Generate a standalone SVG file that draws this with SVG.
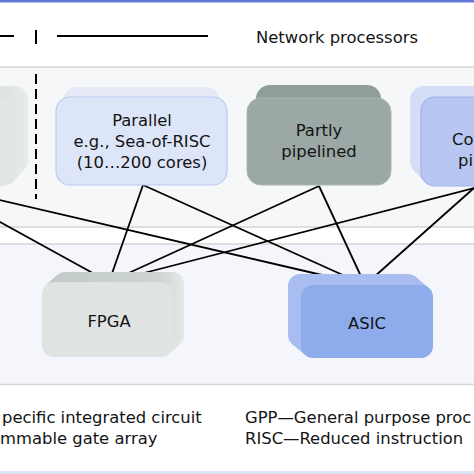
<svg xmlns="http://www.w3.org/2000/svg" width="474" height="474" viewBox="0 0 474 474">
<defs>
<style>
text{font-family:"DejaVu Sans","Open Sans",sans-serif;fill:#141414;font-size:16.4px}
.lbl{text-anchor:middle}
.rule{stroke:#d2d5d7;stroke-width:1.5}
.conn line{stroke:#000;stroke-width:1.8;fill:none}
.blk{stroke:#000;stroke-width:2}
</style>
<linearGradient id="gppSide" x1="0" y1="0" x2="1" y2="0">
<stop offset="0" stop-color="#b7c3c0"/>
<stop offset="1" stop-color="#e6eae9"/>
</linearGradient>
<linearGradient id="fpgaSide" x1="0" y1="0" x2="1" y2="0">
<stop offset="0" stop-color="#c3cbc9"/>
<stop offset="0.8" stop-color="#cdd4d2"/>
<stop offset="1" stop-color="#e4e8e7"/>
</linearGradient>
</defs>

<rect x="0" y="0" width="474" height="474" fill="#ffffff"/>
<rect x="0" y="0" width="474" height="2.5" fill="#6479d6"/>
<rect x="0" y="67" width="474" height="160" fill="#f6f7f8"/>
<rect x="0" y="244" width="474" height="140" fill="#f4f6fb"/>
<line class="rule" x1="0" y1="67" x2="474" y2="67"/>
<line class="rule" x1="0" y1="227" x2="474" y2="227"/>
<line class="rule" x1="0" y1="244" x2="474" y2="244"/>
<line class="rule" x1="0" y1="384.5" x2="474" y2="384.5"/>
<rect x="0" y="471" width="474" height="3" fill="#dce5f6"/>

<g id="header">
<line class="blk" x1="0" y1="36" x2="14" y2="36"/>
<line class="blk" x1="36" y1="30" x2="36" y2="44"/>
<line class="blk" x1="57" y1="36" x2="208" y2="36"/>
<text x="256" y="43">Network processors</text>
</g>

<line x1="36" y1="74" x2="36" y2="199" stroke="#000" stroke-width="2" stroke-dasharray="10 5"/>

<g id="connectors" class="conn">
<line x1="-69" y1="184" x2="109" y2="282"/>
<line x1="-69" y1="184" x2="365" y2="285"/>
<line x1="143" y1="185" x2="109" y2="282"/>
<line x1="143" y1="185" x2="365" y2="285"/>
<line x1="319" y1="186" x2="109" y2="282"/>
<line x1="319" y1="186" x2="365" y2="285"/>
<line x1="474" y1="188" x2="109" y2="282"/>
<line x1="474" y1="188" x2="365" y2="285"/>
</g>

<g id="gpp">
<rect x="-130" y="86" width="158" height="88" rx="14" fill="url(#gppSide)"/>
<polygon points="-139,104 -126,90 24,170 11,184" fill="url(#gppSide)"/>
<rect x="-143" y="100" width="158" height="86" rx="14" fill="#e1e6e5"/>
</g>

<g id="parallel">
<rect x="63" y="87" width="157" height="88" rx="14" fill="#e6eaf7"/>
<polygon points="63,101 56,111 227,111 220,101" fill="#e6eaf7"/>
<rect x="56" y="97" width="171" height="88" rx="14" fill="#dde5f8" stroke="#bccaee" stroke-width="1.2"/>
<text class="lbl" x="142" y="126">Parallel</text>
<text class="lbl" x="142" y="147">e.g., Sea-of-RISC</text>
<text class="lbl" x="142" y="168">(10…200 cores)</text>
</g>

<g id="partly">
<rect x="256" y="85" width="125" height="88" rx="14" fill="#909e9a"/>
<polygon points="256,99 247,112 391,112 381,99" fill="#909e9a"/>
<rect x="247" y="98" width="144" height="87" rx="14" fill="#9ba8a5" stroke="#abb6b3" stroke-width="1"/>
<text class="lbl" x="319" y="136">Partly</text>
<text class="lbl" x="319" y="157">pipelined</text>
</g>

<g id="complete">
<rect x="410" y="86" width="144" height="89" rx="14" fill="#d5ddf6"/>
<polygon points="537,90 548,101 425,182 414,171" fill="#d5ddf6"/>
<rect x="421" y="97" width="144" height="89" rx="14" fill="#b8c7f1" stroke="#9fb3e9" stroke-width="1.2"/>
<text x="452" y="145">Co</text>
<text x="458" y="166">pi</text>
</g>

<g id="fpga">
<rect x="53" y="272" width="131" height="75" rx="12" fill="url(#fpgaSide)"/>
<polygon points="45.5,285.5 56.5,275.5 180.5,343.5 169.5,353.5" fill="url(#fpgaSide)"/>
<rect x="42" y="282" width="131" height="75" rx="12" fill="#dfe3e2"/>
<text class="lbl" x="109" y="327">FPGA</text>
</g>

<g id="asic">
<rect x="288" y="274" width="132" height="73" rx="12" fill="#a9bdf1"/>
<polygon points="416.5,277.5 429.5,288.5 304.5,354.5 291.5,343.5" fill="#a9bdf1"/>
<rect x="301" y="285" width="132" height="73" rx="12" fill="#8eabec"/>
<text class="lbl" x="367" y="329">ASIC</text>
</g>

<g id="legend">
<text x="2" y="423">pecific integrated circuit</text>
<text x="0" y="444">mmable gate array</text>
<text x="245" y="423">GPP—General purpose proc</text>
<text x="245" y="444">RISC—Reduced instruction</text>
</g>
</svg>
